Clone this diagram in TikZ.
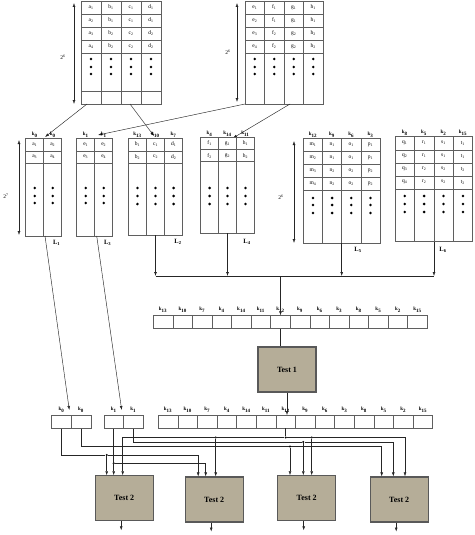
\documentclass[tikz,border=0pt]{standalone}
\usepackage{fontspec}
\setmainfont{Liberation Serif}
\usetikzlibrary{arrows.meta}

\definecolor{testgray}{RGB}{181,173,152}
\definecolor{linegray}{RGB}{95,95,95}
\newcommand{\cel}[2]{#1\textsubscript{#2}}
\newcommand{\kk}[1]{\textbf{k\textsubscript{#1}}}
\newcommand{\Ll}[1]{\textbf{L\textsubscript{#1}}}

\tikzset{
  tab/.style={draw=linegray, line width=0.5pt},
  cell/.style={font=\fontsize{5.5}{6}\selectfont, inner sep=0pt},
  klab/.style={font=\fontsize{5}{6}\selectfont, inner sep=0.3pt},
  llab/.style={font=\fontsize{6.5}{7}\selectfont, inner sep=0pt},
  pow/.style={font=\fontsize{5.5}{6}\selectfont, inner sep=0pt},
  kbox/.style={draw=linegray, line width=0.5pt, minimum width=19.6pt, minimum height=12.8pt, inner sep=0pt},
  testbox/.style={draw=black!65, line width=1.1pt, fill=testgray, minimum width=58pt, minimum height=45pt, inner sep=0pt, font=\fontsize{8}{9}\selectfont\bfseries},
  wire/.style={draw=black!85, line width=0.45pt},
  arr/.style={wire, -{Latex[length=4pt,width=2.8pt]}},
  twoway/.style={wire, {Latex[length=4pt,width=2.8pt]}-{Latex[length=4pt,width=2.8pt]}},
  dot/.style={circle, fill=black, inner sep=0pt, minimum size=2.3pt}
}

\begin{document}
\begin{tikzpicture}[x=1pt,y=-1pt]
  \useasboundingbox (0,0) rectangle (474,535);

  % first key table (a..d)
  \draw[tab] (81,1) rectangle (161,104);
  \foreach \x in {101,121,141} \draw[tab] (\x,1) -- (\x,104);
  \foreach \y in {14,27,40,53,91} \draw[tab] (81,\y) -- (161,\y);
  \foreach \s [count=\r] in {1,1,2,2} {
    \node[cell] (ta\r) at (91,{13*\r-5.5}) {\cel{a}{\r}};
    \foreach \l [count=\c] in {b,c,d}
      \node[cell] (t\l\r) at ({91+20*\c},{13*\r-5.5}) {\cel{\l}{\s}};
  }
  \foreach \x in {91,111,131,151} \foreach \y in {59,67,74} \fill (\x,\y) circle[radius=1.4pt];
  \draw[twoway] (74,3) -- (74,104);
  \node[pow] (pa) at (63,57) {2\textsuperscript{6}};

  % second key table (e..h)
  \draw[tab] (245,1) rectangle (323,104);
  \foreach \x in {264.5,284,303.5} \draw[tab] (\x,1) -- (\x,104);
  \foreach \y in {14,27,40,53} \draw[tab] (245,\y) -- (323,\y);
  \foreach \s [count=\r] in {1,1,2,2} {
    \node[cell] (te\r) at (254.75,{13*\r-5.5}) {\cel{e}{\r}};
    \foreach \l [count=\c] in {f,g,h}
      \node[cell] (t\l\r) at ({254.75+19.5*\c},{13*\r-5.5}) {\cel{\l}{\s}};
  }
  \foreach \x in {254.75,274.25,293.75,313.25} \foreach \y in {59,67,74} \fill (\x,\y) circle[radius=1.4pt];
  \draw[twoway] (237,3) -- (237,102);
  \node[pow] (pb) at (228,52) {2\textsuperscript{6}};

  % split arrows
  \draw[arr] (87,104) -- (45,137);
  \draw[arr] (130,104) -- (154,136);
  \draw[arr] (245,104) -- (98,135);
  \draw[arr] (290,104) -- (233,138);

  % L1 and L3
  \foreach \x/\l/\k/\n in {25.7/a/0/1, 76.7/e/1/3} {
    \draw[tab] (\x,138) rectangle ++(36,98);
    \draw[tab] (\x+18,138) -- ++(0,98);
    \foreach \y in {151,163.5} \draw[tab] (\x,\y) -- ++(36,0);
    \node[klab] (h\n a) at (\x+9,134.5) {\kk{\k}};
    \node[klab] (h\n b) at (\x+27,134.5) {\kk{\k}};
    \node[cell] (l\l1) at (\x+9,144.5) {\cel{\l}{1}};
    \node[cell] (l\l2) at (\x+27,144.5) {\cel{\l}{2}};
    \node[cell] (l\l3) at (\x+9,157) {\cel{\l}{3}};
    \node[cell] (l\l4) at (\x+27,157) {\cel{\l}{4}};
    \foreach \y in {188,196,203} {
      \fill (\x+9,\y) circle[radius=1.4pt];
      \fill (\x+27,\y) circle[radius=1.4pt];
    }
    \node[llab] (L\n) at (\x+31,243) {\Ll{\n}};
  }
  \draw[twoway] (19,140) -- (19,235);
  \node[pow] (pc) at (6,196) {2\textsuperscript{7}};

  % L2
  \draw[tab] (128.3,138) rectangle (182.7,235);
  \foreach \x in {146.4,164.5} \draw[tab] (\x,138) -- (\x,235);
  \foreach \y in {151,163} \draw[tab] (128.3,\y) -- (182.7,\y);
  \foreach \k/\l [count=\c from 0] in {13/b,10/c,7/d} {
    \node[klab] (h2\c) at ({137.4+18.1*\c},134.5) {\kk{\k}};
    \node[cell] (l\l1) at ({137.4+18.1*\c},144.5) {\cel{\l}{1}};
    \node[cell] (l\l2) at ({137.4+18.1*\c},157) {\cel{\l}{2}};
    \foreach \y in {188,196,204} \fill ({137.4+18.1*\c},\y) circle[radius=1.4pt];
  }
  \node[llab] (L2) at (178,242) {\Ll{2}};

  % L4
  \draw[tab] (200.7,137.3) rectangle (254.3,233.3);
  \foreach \x in {218.6,236.5} \draw[tab] (\x,137.3) -- (\x,233.3);
  \foreach \y in {149.5,161.7} \draw[tab] (200.7,\y) -- (254.3,\y);
  \foreach \k/\l [count=\c from 0] in {4/f,14/g,11/h} {
    \node[klab] (h4\c) at ({209.6+17.9*\c},133.8) {\kk{\k}};
    \node[cell] (l\l1) at ({209.6+17.9*\c},143.4) {\cel{\l}{1}};
    \node[cell] (l\l2) at ({209.6+17.9*\c},155.6) {\cel{\l}{2}};
    \foreach \y in {188,196,204} \fill ({209.6+17.9*\c},\y) circle[radius=1.4pt];
  }
  \node[llab] (L4) at (247,242) {\Ll{4}};
  \draw[twoway] (294,141) -- (294,243);
  \node[pow] (pd) at (281,197) {2\textsuperscript{6}};

  % L5
  \draw[tab] (303.3,138.3) rectangle (380,243.3);
  \foreach \x in {322.5,341.7,360.8} \draw[tab] (\x,138.3) -- (\x,243.3);
  \foreach \y in {151,164,177,190} \draw[tab] (303.3,\y) -- (380,\y);
  \foreach \k/\l [count=\c from 0] in {12/m,9/n,6/o,3/p} {
    \node[klab] (h5\c) at ({312.9+19.2*\c},134.5) {\kk{\k}};
    \foreach \s [count=\r] in {1,1,2,2}
      \node[cell] (l\l\r) at ({312.9+19.2*\c},{138.3+13*\r-6.5}) {\cel{\l}{\ifnum\c=0 \r\else\s\fi}};
    \foreach \y in {198,205,213} \fill ({312.9+19.2*\c},\y) circle[radius=1.4pt];
  }
  \node[llab] (L5) at (358,250) {\Ll{5}};

  % L6
  \draw[tab] (395,136.7) rectangle (472.6,241.7);
  \foreach \x in {414.4,433.8,453.2} \draw[tab] (\x,136.7) -- (\x,241.7);
  \foreach \y in {150,163,176,189} \draw[tab] (395,\y) -- (472.6,\y);
  \foreach \k/\l [count=\c from 0] in {8/q,5/r,2/s,15/t} {
    \node[klab] (h6\c) at ({404.7+19.4*\c},132.8) {\kk{\k}};
    \foreach \s [count=\r] in {1,1,2,2}
      \node[cell] (l\l\r) at ({404.7+19.4*\c},{136.7+13*\r-6.5}) {\cel{\l}{\ifnum\c=0 \r\else\s\fi}};
    \foreach \y in {196,204,212} \fill ({404.7+19.4*\c},\y) circle[radius=1.4pt];
  }
  \node[llab] (L6) at (443,250) {\Ll{6}};

  % merge of L2, L4, L5, L6
  \coordinate (bus) at (0,276);
  \draw[arr] (155.5,235) -- (155.5,276);
  \draw[arr] (227.5,233.3) -- (227.5,276);
  \draw[arr] (341.7,243.3) -- (341.7,276);
  \draw[arr] (434,241.7) -- (434,276);
  \draw[wire] (155.5,276) -- (434,276);

  % merged rows
  \foreach \k [count=\i] in {13,10,7,4,14,11,12,9,6,3,8,5,2,15} {
    \node[kbox, label={[klab, label distance=2.5pt]above:\kk{\k}}] (ra\i) at ({153.3+19.57*\i-9.785},322) {};
    \node[kbox, label={[klab, label distance=2.5pt]above:\kk{\k}}] (rb\i) at ({158.3+19.6*\i-9.8},421.7) {};
  }
  \draw[arr] (ra7.north |- bus) -- (ra7.north);

  \node[testbox] (t1) at (287,369.5) {Test 1};
  \draw[wire] (ra7.south) -- (ra7.south |- t1.north);
  \draw[arr] (t1.south) -- (t1.south |- rb7.north);

  % k0 and k1 pairs
  \node[kbox, label={[klab, label distance=2.5pt]above:\kk{0}}] (p1) at (61.5,422) {};
  \node[kbox, label={[klab, label distance=2.5pt]above:\kk{0}}] (p2) at (81.1,422) {};
  \node[kbox, label={[klab, label distance=2.5pt]above:\kk{1}}] (p3) at (113.7,422) {};
  \node[kbox, label={[klab, label distance=2.5pt]above:\kk{1}}] (p4) at (133.3,422) {};
  \draw[arr] (45,236) -- (69.3,410);
  \draw[arr] (96.7,236) -- (121.7,410);

  % second tests
  \node[testbox] (t2a) at (124.2,498.3) {Test 2};
  \node[testbox] (t2b) at (214.2,499.5) {Test 2};
  \node[testbox] (t2c) at (306.7,498.3) {Test 2};
  \node[testbox] (t2d) at (399.2,499.5) {Test 2};

  % junctions
  \node[dot] (j1) at (106.7,455) {};
  \node[dot] (j2) at (290,446.5) {};
  \node[dot] (j3) at (113.7,463.3) {};
  \node[dot] (j4) at (303.3,442) {};
  \node[dot] (j5) at (rb7.south |- 0,437.5) {};
  \node[dot] (j6) at (215.7,437.5) {};
  \node[dot] (j7) at (311.7,437.5) {};

  % wiring
  \draw[arr] (p1.south) |- (j1) -| ([xshift=-16pt]t2b.north);
  \draw[arr] (j1) -- (j1 |- t2a.north);
  \draw[arr] (p2.south) |- (j2) -| ([xshift=-17.5pt]t2d.north);
  \draw[arr] (j2) -- (j2 |- t2c.north);
  \draw[arr] (p3.south) -- (p3.south |- t2a.north);
  \draw[arr] (j3) -| ([xshift=-8.5pt]t2b.north);
  \draw[arr] (p4.south) |- (j4) -| ([xshift=-5.9pt]t2d.north);
  \draw[arr] (j4) -- (j4 |- t2c.north);
  \draw[wire] (rb7.south) -- (j5);
  \draw[arr] (j5) -| ([xshift=-1.5pt]t2a.north);
  \draw[arr] (j5) -| ([xshift=5.8pt]t2d.north);
  \draw[arr] (j6) -- (j6 |- t2b.north);
  \draw[arr] (j7) -- (j7 |- t2c.north);

  % outputs
  \foreach \t in {t2a,t2b,t2c,t2d} \draw[arr] ([xshift=-3pt]\t.south) -- ++(0,9);
\end{tikzpicture}
\end{document}
